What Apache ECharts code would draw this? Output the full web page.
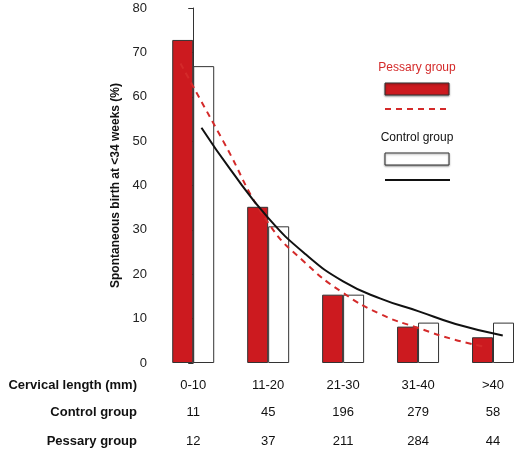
<!DOCTYPE html><html><head><meta charset="utf-8"><script src="https://cdn.jsdelivr.net/npm/echarts@6/dist/echarts.min.js"></script></head><body style="margin:0"><div id="c" style="width:517px;height:451px"></div><script>
var categories=['0-10','11-20','21-30','31-40','>40'];
var pessaryValues=[72.8,35.2,15.4,8.2,5.8];
var controlValues=[66.9,30.8,15.4,9.1,9.1];
var controlN=[11,45,196,279,58];
var pessaryN=[12,37,211,284,44];
var yTicks=[0,10,20,30,40,50,60,70,80];
var pessaryCurve=[[-0.17,67.5],[0.4,50],[1,31.6],[1.5,22.5],[2,15.8],[2.5,11],[3,7.9],[3.5,5.2],[3.91,3.6]];
var controlCurve=[[0.11,53],[0.5,43.5],[1,32.7],[1.5,24.5],[2,18.4],[2.5,14.5],[3,11.7],[3.5,8.8],[4.13,6.2]];
var off=0.14;
var chart=echarts.init(document.getElementById('c'));
var F='Liberation Sans, Arial, sans-serif';
chart.setOption({
 animation:false,
 grid:{left:155,right:0,top:8,bottom:88,containLabel:false},
 xAxis:{type:'value',min:-0.51,max:4.32,show:false},
 yAxis:{type:'value',min:0,max:80,interval:10,axisLine:{show:true,lineStyle:{color:'#333'}},axisTick:{show:true,inside:false,length:5,lineStyle:{color:'#333'}},splitLine:{show:false},
  axisLabel:{color:'#222',fontFamily:F,fontSize:13,margin:8},
  name:'Spontaneous birth at <34 weeks (%)',nameLocation:'middle',nameGap:30,nameTextStyle:{fontFamily:F,fontWeight:'bold',fontSize:12,color:'#111'}},
 series:[
  {type:'bar',barWidth:21,barGap:'-100%',data:pessaryValues.map(function(v,i){return [i-off,v];}),itemStyle:{color:'#cc1a1f',borderColor:'#333',borderWidth:1}},
  {type:'bar',barWidth:21,barGap:'-100%',data:controlValues.map(function(v,i){return [i+off,v];}),itemStyle:{color:'#fff',borderColor:'#333',borderWidth:1}},
  {type:'line',smooth:true,symbol:'none',data:pessaryCurve,lineStyle:{color:'#d42a2a',width:2,type:[6,5]}},
  {type:'line',smooth:true,symbol:'none',data:controlCurve,lineStyle:{color:'#111',width:2}}
 ]
});
var g=[];
function t(x,y,s,o){g.push({type:'text',x:x,y:y,style:Object.assign({text:s,fontFamily:F,fontSize:13,fill:'#111',textAlign:'center',textVerticalAlign:'middle'},o||{})});}
t(137,385,'Cervical length (mm)',{textAlign:'right',fontWeight:'bold'});
t(137,412,'Control group',{textAlign:'right',fontWeight:'bold'});
t(137,441,'Pessary group',{textAlign:'right',fontWeight:'bold'});
categories.forEach(function(c,i){
 var px=chart.convertToPixel({gridIndex:0},[i,0])[0];
 t(px,385,c);t(px,412,String(controlN[i]));t(px,441,String(pessaryN[i]));
});
t(417,68,'Pessary group',{fill:'#d42a2a',fontSize:12});
g.push({type:'rect',shape:{x:385,y:83,width:64,height:12},style:{fill:'#cc1a1f',stroke:'#333',lineWidth:1,shadowBlur:2,shadowColor:'rgba(0,0,0,0.4)',shadowOffsetY:1}});
g.push({type:'line',shape:{x1:385,y1:109,x2:447,y2:109},style:{stroke:'#d42a2a',lineWidth:2,lineDash:[6,5]}});
t(417,138,'Control group',{fontSize:12});
g.push({type:'rect',shape:{x:385,y:153,width:64,height:12},style:{fill:'#fff',stroke:'#333',lineWidth:1,shadowBlur:2,shadowColor:'rgba(0,0,0,0.4)',shadowOffsetY:1}});
g.push({type:'line',shape:{x1:385,y1:180,x2:450,y2:180},style:{stroke:'#111',lineWidth:2}});
chart.setOption({graphic:g});
</script></body></html>
